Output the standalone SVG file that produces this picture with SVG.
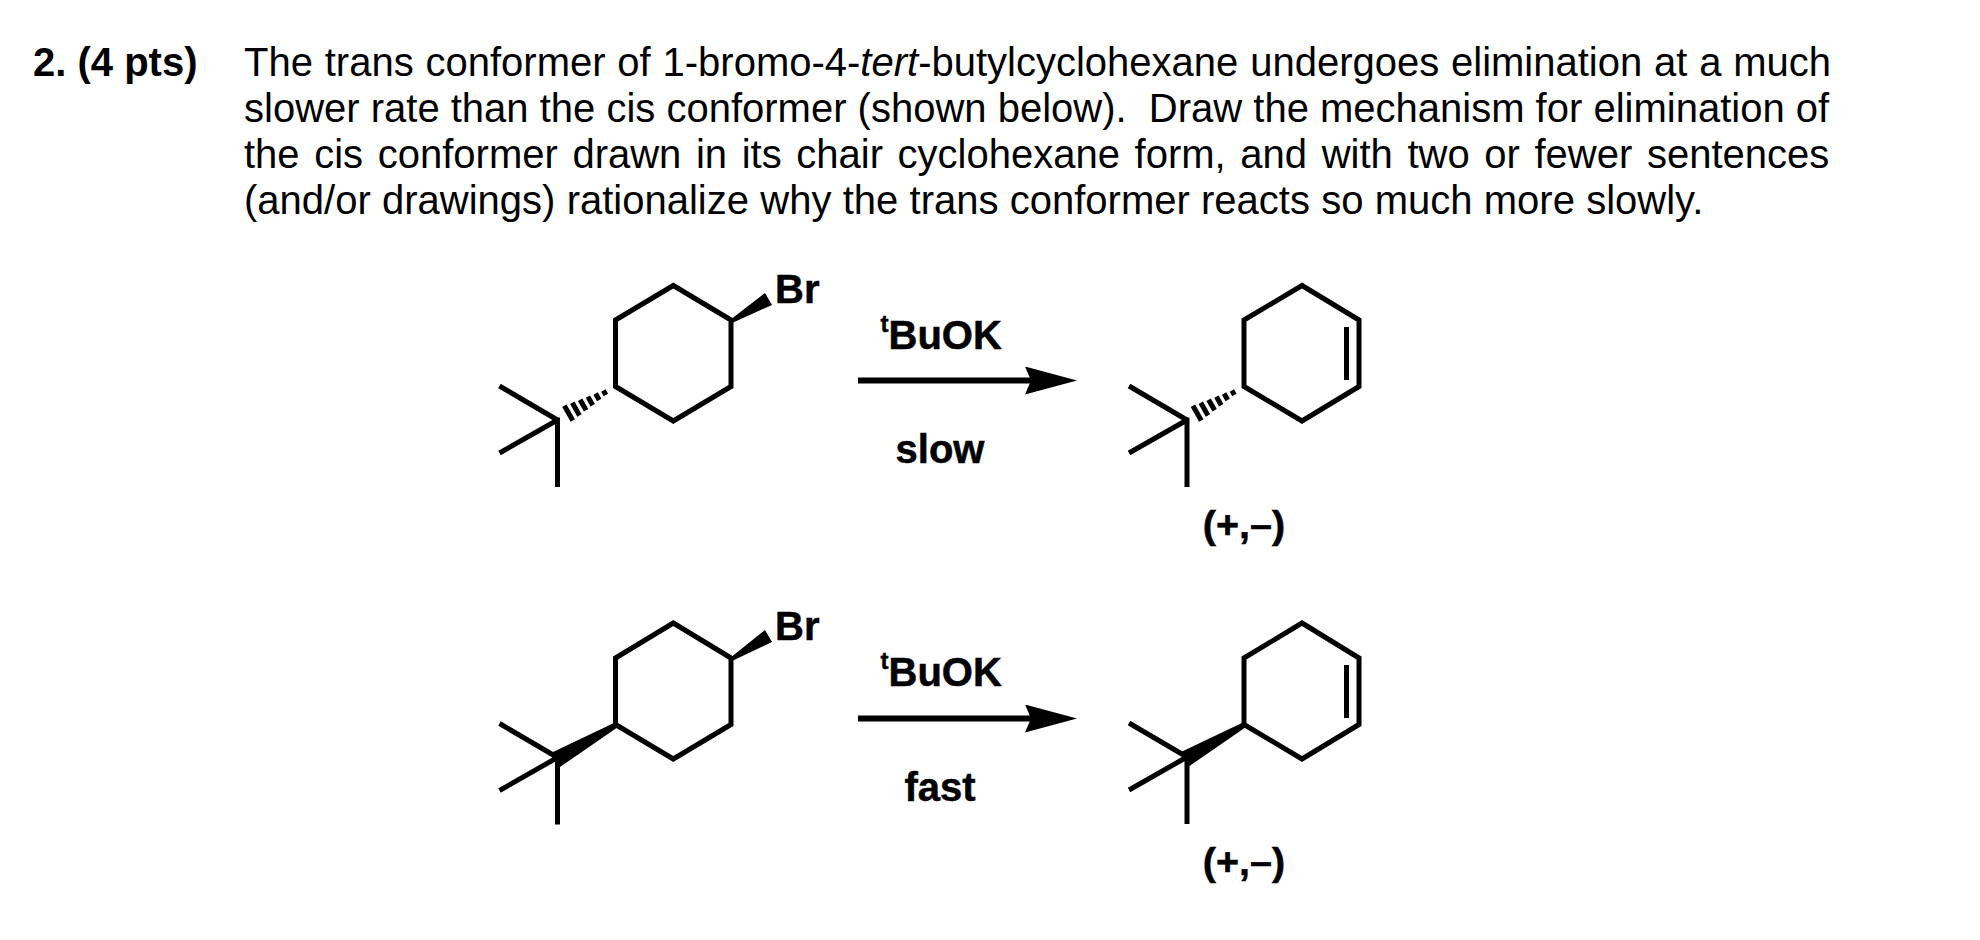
<svg xmlns="http://www.w3.org/2000/svg" width="1980" height="940" viewBox="0 0 1980 940">
<style>
text{font-family:"Liberation Sans",Arial,sans-serif;fill:#000}
.q{font-size:40px}
.b{font-weight:bold;font-size:40px;stroke:#000;stroke-width:0.500}
.c{text-anchor:middle}
.bond{fill:none;stroke:#000;stroke-width:5;stroke-linejoin:miter}
.hash{fill:none;stroke:#000;stroke-width:5}
.arrow{fill:none;stroke:#000;stroke-width:6;marker-end:url(#ah)}
</style>
<defs>
<marker id="ah" markerUnits="userSpaceOnUse" markerWidth="52" markerHeight="28" refX="15" refY="14" orient="auto"><path d="M0 0L52 14L0 28L6 14Z"/></marker>
<path id="tbu" class="bond" d="M499.500 386L557.500 420M499.500 453L557.500 420M557.500 417.500V487"/>
<path id="hashed" class="hash" d="M-12.100 4L-9.600 8.400M-19.900 7.100L-16.300 13.500M-27.600 10.100L-22.800 18.700M-35.400 13.200L-29.400 23.800M-43.200 16.300L-36 28.900M-51.100 19.300L-42.700 34.100"/>
</defs>
<g id="question">
<text class="q" x="33" y="75.500" style="font-weight:bold">2. (4 pts)</text>
<text class="q" x="244" y="75.500" word-spacing="0.700">The trans conformer of 1-bromo-4-<tspan font-style="italic">tert</tspan>-butylcyclohexane undergoes elimination at a much</text>
<text class="q" x="244" y="122" xml:space="preserve">slower rate than the cis conformer (shown below).  Draw the mechanism for elimination of</text>
<text class="q" x="244" y="168" word-spacing="3.500">the cis conformer drawn in its chair cyclohexane form, and with two or fewer sentences</text>
<text class="q" x="244" y="214" word-spacing="0.150">(and/or drawings) rationalize why the trans conformer reacts so much more slowly.</text>
</g>
<g id="reactant-trans">
<polygon class="bond" points="673.300,285.500 731,320 731,386.500 673.300,421 615.500,386.500 615.500,320"/>
<use href="#tbu"/>
<use href="#hashed" x="615.500" y="386.500"/>
<polygon points="730,320 765,293 772,305 732,323"/>
<text class="b" x="775" y="302.500">Br</text>
</g>
<g id="product-slow">
<polygon class="bond" points="1302,285.500 1359,320 1359,386.500 1302,421 1244,386.500 1244,320"/>
<path class="bond" d="M1346.500 327V380"/>
<use href="#tbu" x="629.500"/>
<use href="#hashed" x="1244" y="386.500"/>
<text class="b c" x="1244" y="538" style="font-size:39.500px">(+,–)</text>
</g>
<g id="reactant-cis">
<polygon class="bond" points="673.300,623 731,658 731,724.500 673.300,759 615.500,724.500 615.500,658"/>
<use href="#tbu" y="337.500"/>
<polygon points="616,722 553,752 560,767 618,727"/>
<polygon points="730,658 765,630 772,642 732,661"/>
<text class="b" x="775" y="639.500">Br</text>
</g>
<g id="product-fast">
<polygon class="bond" points="1302,623 1359,658 1359,724.500 1302,759 1244,724.500 1244,658"/>
<path class="bond" d="M1346.500 665V718"/>
<use href="#tbu" x="629.500" y="337"/>
<polygon points="1244,722 1181,752 1188,767 1246,727"/>
<text class="b c" x="1244" y="875" style="font-size:39.500px">(+,–)</text>
</g>
<g id="connectors">
<path class="arrow" d="M858 380.500H1040"/>
<path class="arrow" d="M858 718.500H1040"/>
</g>
<g id="label-top">
<text class="b" x="880.500" y="348.500"><tspan font-size="24px" dy="-17">t</tspan><tspan dy="17">BuOK</tspan></text>
<text class="b c" x="940" y="463">slow</text>
</g>
<g id="label-bottom">
<text class="b" x="880.500" y="685.500"><tspan font-size="24px" dy="-17">t</tspan><tspan dy="17">BuOK</tspan></text>
<text class="b c" x="940" y="800.500">fast</text>
</g>
</svg>
